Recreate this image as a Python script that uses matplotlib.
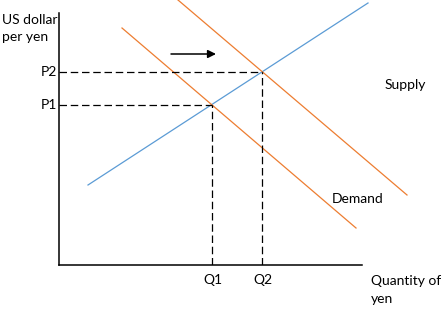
import matplotlib.pyplot as plt
import numpy as np

# chart units: origin at the axis corner
supply_x = [29, 309]
supply_y = [80, 262]
demand1_x = [63, 297]
demand1_y = [237, 37]
demand2_x = [119, 348]
demand2_y = [265, 70]

price_labels = ['P1', 'P2']
qty_labels = ['Q1', 'Q2']

blue = '#5B9BD5'
orange = '#ED7D31'

plt.rcParams['font.family'] = ['Lato', 'DejaVu Sans']
fs = 10

W, H = 445, 314
fig = plt.figure(figsize=(W / 100, H / 100), dpi=100)
ax = fig.add_axes([59 / W, (H - 265) / H, (362 - 59) / W, (265 - 13) / H])
ax.set_xlim(0, 303)
ax.set_ylim(0, 252)


def intersect(x1, y1, x2, y2):
    a1 = np.polyfit(x1, y1, 1)
    a2 = np.polyfit(x2, y2, 1)
    x = (a2[1] - a1[1]) / (a1[0] - a2[0])
    return x, np.polyval(a1, x)


e1 = intersect(supply_x, supply_y, demand1_x, demand1_y)
e2 = intersect(supply_x, supply_y, demand2_x, demand2_y)

ax.plot(supply_x, supply_y, color=blue, lw=0.9, clip_on=False)
ax.plot(demand1_x, demand1_y, color=orange, lw=0.9, clip_on=False)
ax.plot(demand2_x, demand2_y, color=orange, lw=0.9, clip_on=False)

for (ex, ey), pl, ql in zip([e1, e2], price_labels, qty_labels):
    ax.plot([0, ex], [ey, ey], color='black', lw=0.9, dashes=(6, 3))
    ax.plot([ex, ex], [0, ey], color='black', lw=0.9, dashes=(6, 3))
    ax.text(-2, ey, pl, ha='right', va='center', fontsize=fs)
    ax.text(ex + 1, -19, ql, ha='center', va='baseline', fontsize=fs)

ax.annotate('', xy=(157, 211), xytext=(112, 211),
            arrowprops=dict(arrowstyle='-|>', color='black', lw=1.1,
                            mutation_scale=12, shrinkA=0, shrinkB=0))

ax.text(-57, 241, 'US dollar', ha='left', va='baseline', fontsize=fs, clip_on=False)
ax.text(-57, 224, 'per yen', ha='left', va='baseline', fontsize=fs, clip_on=False)
ax.text(312, -20, 'Quantity of', ha='left', va='baseline', fontsize=fs, clip_on=False)
ax.text(312, -38, 'yen', ha='left', va='baseline', fontsize=fs, clip_on=False)
ax.text(326, 180, 'Supply', ha='left', va='center', fontsize=fs, clip_on=False)
ax.text(273, 66, 'Demand', ha='left', va='center', fontsize=fs, clip_on=False)

for s in ['top', 'right']:
    ax.spines[s].set_visible(False)
for s in ['left', 'bottom']:
    ax.spines[s].set_linewidth(1.1)
ax.set_xticks([])
ax.set_yticks([])

fig.savefig('out.png', dpi=100)
